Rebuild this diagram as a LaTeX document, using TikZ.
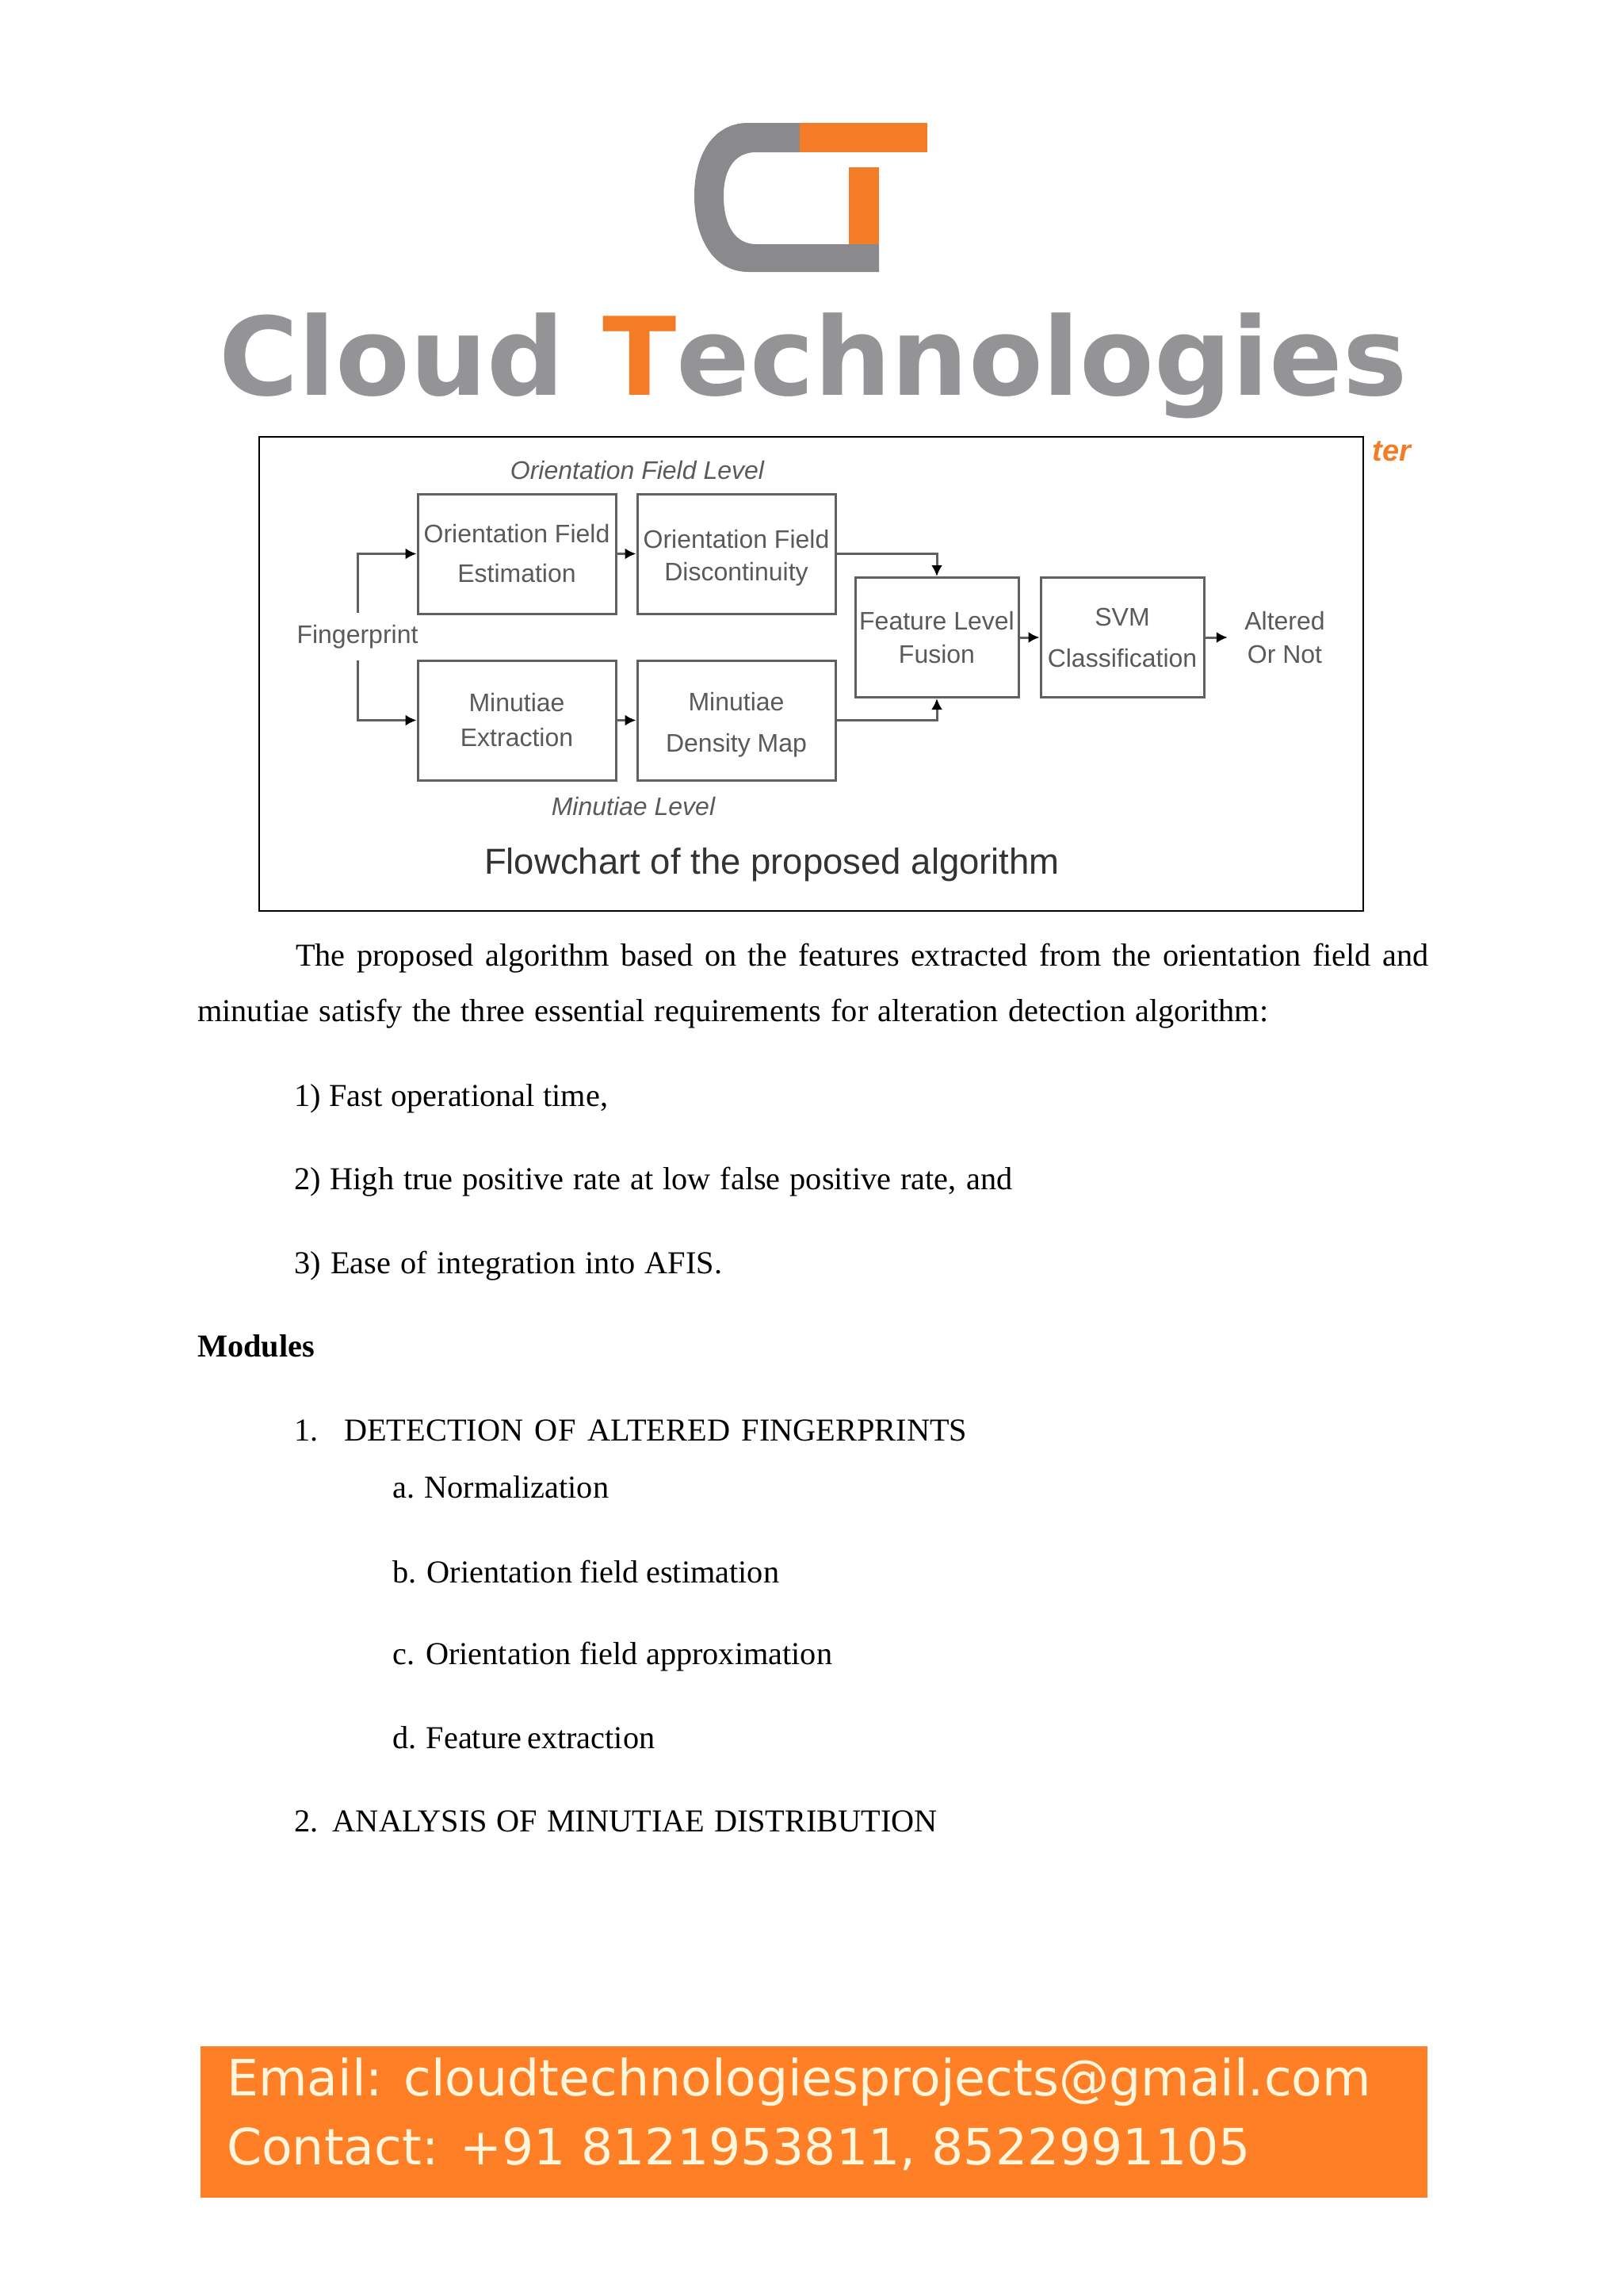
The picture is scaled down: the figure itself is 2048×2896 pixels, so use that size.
\documentclass[tikz,border=0pt]{standalone}
\usepackage{fontspec}
\setmainfont{Liberation Serif}
\newfontfamily\flowfont{Liberation Sans}
\newfontfamily\bannerfont{DejaVu Sans}
\usetikzlibrary{arrows.meta}
\definecolor{ctgray}{HTML}{8A8A8C}
\definecolor{ctword}{HTML}{949497}
\definecolor{ctorange}{HTML}{F47C26}
\definecolor{bannerorange}{HTML}{FF7F27}
\definecolor{bannertext}{HTML}{FFF6DC}
\definecolor{flowline}{HTML}{606060}
\definecolor{flowtext}{HTML}{5A5A5A}
\newcommand{\fitline}[2]{\makebox[#1pt][s]{#2}}
\tikzset{
	flowbox/.style = {draw = flowline, line width = 3pt, minimum width = 250pt, minimum height = 151pt, inner sep = 0pt, align = center, text = flowtext, font = \flowfont\fontsize{32}{32}\selectfont},
	fusebox/.style = {flowbox, minimum width = 206pt},
	flowlabel/.style = {inner sep = 0pt, align = center, text = flowtext, font = \flowfont\fontsize{32}{32}\selectfont},
	levellabel/.style = {inner sep = 0pt, text = flowtext, font = \flowfont\itshape\fontsize{32}{32}\selectfont},
	flowarrow/.style = {draw = flowline, line width = 3pt, -{Latex[black, length = 14pt, width = 14pt]}},
	bodyline/.style = {anchor = base west, inner sep = 0pt, font = \fontsize{40.3}{40.3}\selectfont},
	bannerline/.style = {anchor = base west, inner sep = 0pt, text = bannertext, font = \bannerfont\fontsize{63.2}{63.2}\selectfont}
}
\begin{document}
\begin{tikzpicture}[x=1pt,y=-1pt]
	\useasboundingbox (0,0) rectangle (2048,2896);
	\fill[ctgray] (1009,155) -- (944,155) .. controls (900,155) and (876,195) .. (876,247) .. controls (876,300) and (900,343) .. (944,343) -- (1109,343) -- (1109,308) -- (954,308) .. controls (928,308) and (913,285) .. (913,247) .. controls (913,212) and (928,192) .. (954,192) -- (1009,192) -- cycle;
	\fill[ctorange] (1009,155) rectangle (1170,192);
	\fill[ctorange] (1071,211) rectangle (1109,308);
	\node (LOGO) at (1026,498) [anchor = base, inner sep = 0pt, text = ctword, font = \bannerfont\bfseries\fontsize{136.7}{136.7}\selectfont] {Cloud \textcolor{ctorange}{T}echnologies};
	\node (SLOGAN) at (1756,581) [anchor = base, inner sep = 0pt, text = ctorange, font = \flowfont\bfseries\itshape\fontsize{38}{38}\selectfont] {ter};

	\node (FRAME) at (1023.5,850) [draw = black, line width = 2.6pt, fill = white, minimum width = 1393pt, minimum height = 598pt, inner sep = 0pt] {};
	\node (OFL) at ( 804,  593)	[levellabel]	{Orientation Field Level};
	\node (OFE) at ( 652,  698.5)	[flowbox]	{Orientation Field\\[18pt]Estimation};
	\node (OFD) at ( 929,  698.5)	[flowbox]	{\rule{0pt}{33pt}Orientation Field\\[9pt]Discontinuity};
	\node (ME) at ( 652,  908.5)	[flowbox]	{Minutiae\\[12pt]Extraction};
	\node (MDM) at ( 929,  908.5)	[flowbox]	{\rule{0pt}{35pt}Minutiae\\[20pt]Density Map};
	\node (FLF) at (1182,  804)	[fusebox]	{Feature Level\\[10pt]Fusion};
	\node (SVM) at (1416,  804)	[fusebox]	{SVM\\[20pt]Classification};
	\node (FP) at ( 451,  803)	[flowlabel, minimum height = 60pt]	{Fingerprint};
	\node (ALT) at (1621,  804)	[flowlabel, minimum width = 144pt]	{Altered\\[10pt]Or Not};
	\node (MIL) at ( 799, 1017)	[levellabel]	{Minutiae Level};
	\node (CAP) at ( 974, 1091)	[inner sep = 0pt, text = black!80, font = \flowfont\fontsize{45.5}{45.5}\selectfont]	{Flowchart of the proposed algorithm};
	\draw[flowarrow] (FP.north) |- (OFE.west);
	\draw[flowarrow] (FP.south) |- (ME.west);
	\draw[flowarrow] (OFE) -- (OFD);
	\draw[flowarrow] (ME) -- (MDM);
	\draw[flowarrow] (OFD.east) -| (FLF.north);
	\draw[flowarrow] (MDM.east) -| (FLF.south);
	\draw[flowarrow] (FLF) -- (SVM);
	\draw[flowarrow] (SVM) -- (ALT);

	\node (P1) at ( 373, 1218)	[bodyline]	{\fitline{1429}{The proposed algorithm based on the features extracted from the orientation field and}};
	\node (P2) at ( 249, 1288)	[bodyline]	{\fitline{1351}{minutiae satisfy the three essential requirements for alteration detection algorithm:}};
	\node (R1) at ( 371, 1395)	[bodyline]	{\fitline{396}{1) Fast operational time,}};
	\node (R2) at ( 371, 1500)	[bodyline]	{\fitline{906}{2) High true positive rate at low false positive rate, and}};
	\node (R3) at ( 371, 1606)	[bodyline]	{\fitline{540}{3) Ease of integration into AFIS.}};
	\node (MOD) at ( 249, 1711)	[bodyline]	{\textbf{Modules}};
	\node (M1N) at ( 371, 1817)	[bodyline]	{1.};
	\node (M1) at ( 434, 1817)	[bodyline]	{\fitline{786}{DETECTION OF ALTERED FINGERPRINTS}};
	\node (A) at ( 495, 1889)	[bodyline]	{\fitline{268}{a. Normalization}};
	\node (B) at ( 495, 1996)	[bodyline]	{\fitline{488}{b. Orientation field estimation}};
	\node (C) at ( 495, 2099)	[bodyline]	{\fitline{555}{c. Orientation field approximation}};
	\node (D) at ( 495, 2205)	[bodyline]	{\fitline{331}{d. Feature extraction}};
	\node (M2) at ( 371, 2310)	[bodyline]	{\fitline{812}{2. ANALYSIS OF MINUTIAE DISTRIBUTION}};

	\node (BANNER) at (1027,2676.5) [fill = bannerorange, minimum width = 1548pt, minimum height = 191pt, inner sep = 0pt] {};
	\node (MAIL) at ( 286, 2643)	[bannerline]	{Email: cloudtechnologiesprojects@gmail.com};
	\node (TEL) at ( 286, 2730)	[bannerline]	{Contact: +91 8121953811, 8522991105};
\end{tikzpicture}
\end{document}
